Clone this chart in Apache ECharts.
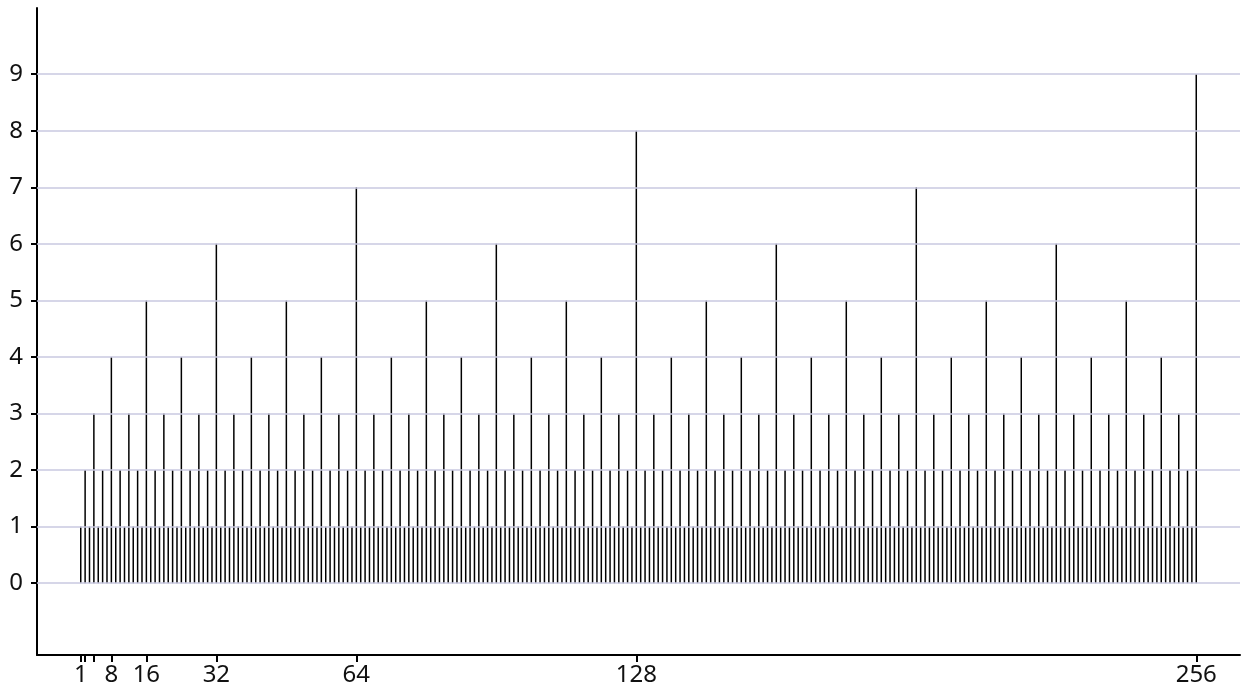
<!DOCTYPE html><html><head><meta charset="utf-8"><script src="https://cdn.jsdelivr.net/npm/echarts@6/dist/echarts.min.js"></script></head><body style="margin:0"><div id="c" style="width:1250px;height:699px"></div><script>
var values = [
1,2,1,3,1,2,1,4,1,2,1,3,1,2,1,5,
1,2,1,3,1,2,1,4,1,2,1,3,1,2,1,6,
1,2,1,3,1,2,1,4,1,2,1,3,1,2,1,5,
1,2,1,3,1,2,1,4,1,2,1,3,1,2,1,7,
1,2,1,3,1,2,1,4,1,2,1,3,1,2,1,5,
1,2,1,3,1,2,1,4,1,2,1,3,1,2,1,6,
1,2,1,3,1,2,1,4,1,2,1,3,1,2,1,5,
1,2,1,3,1,2,1,4,1,2,1,3,1,2,1,8,
1,2,1,3,1,2,1,4,1,2,1,3,1,2,1,5,
1,2,1,3,1,2,1,4,1,2,1,3,1,2,1,6,
1,2,1,3,1,2,1,4,1,2,1,3,1,2,1,5,
1,2,1,3,1,2,1,4,1,2,1,3,1,2,1,7,
1,2,1,3,1,2,1,4,1,2,1,3,1,2,1,5,
1,2,1,3,1,2,1,4,1,2,1,3,1,2,1,6,
1,2,1,3,1,2,1,4,1,2,1,3,1,2,1,5,
1,2,1,3,1,2,1,4,1,2,1,3,1,2,1,9];
var xTicks = [1,2,4,8,16,32,64,128,256];
var xLabels = [1,8,16,32,64,128,256];
var yTicks = [0,1,2,3,4,5,6,7,8,9];
var data = values.map(function(v,i){return [i+1,v];});
var chart = echarts.init(document.getElementById('c'));
var font = {fontFamily:'Noto Sans',fontSize:24,color:'#111'};
chart.setOption({
 animation:false,
 grid:{left:37,right:10,top:8,bottom:44},
 xAxis:{type:'value',min:-9,max:266,
  axisLine:{onZero:false,lineStyle:{color:'#000',width:2}},
  axisTick:{customValues:xTicks,length:7,lineStyle:{color:'#000',width:2}},
  axisLabel:Object.assign({customValues:xLabels,margin:8},font),
  splitLine:{show:false}},
 yAxis:{type:'value',min:-1.27,max:10.17,
  axisLine:{show:true,onZero:false,lineStyle:{color:'#000',width:2}},
  axisTick:{show:true,customValues:yTicks,length:6,lineStyle:{color:'#000',width:2}},
  axisLabel:Object.assign({customValues:yTicks,margin:14},font),
  splitLine:{show:false}},
 series:[{type:'bar',data:data,barWidth:1.5,itemStyle:{color:'#000'},
  markLine:{silent:true,symbol:'none',label:{show:false},
   lineStyle:{color:'#c8c8e0',type:'solid',width:1.5},
   data:yTicks.map(function(v){return {yAxis:v};})},z:2}]
});
</script></body></html>
